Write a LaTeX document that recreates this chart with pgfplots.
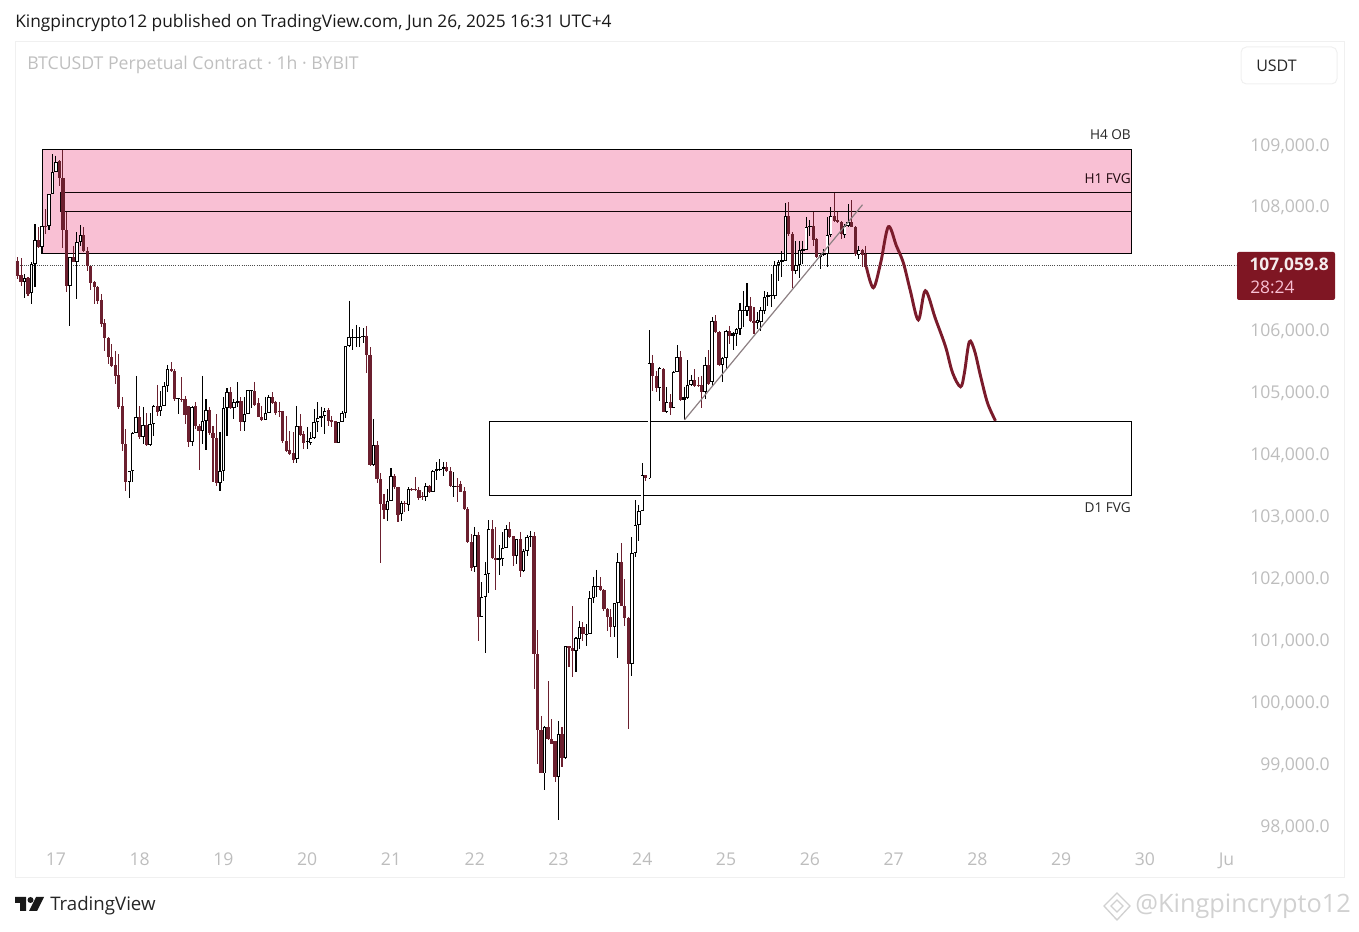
\documentclass[border=0pt]{standalone}
\usepackage{fontspec}
\setmainfont{Open Sans}
\usepackage{pgfplots}
\usepackage{pgfplotstable}
\pgfplotsset{compat=1.18}
\definecolor{bear}{HTML}{6B1F2E}
\definecolor{pinkbox}{HTML}{F9C0D4}
\definecolor{curve}{HTML}{7A1B2B}
\definecolor{ticktxt}{HTML}{BDBDBD}
\definecolor{lab}{HTML}{7F1623}
\definecolor{trend}{HTML}{8C7F82}
\pgfplotstableread{
t o h l c
-11 107117 107182 106832 106886
-10 106902 107171 106724 106778
-9 106778 106913 106525 106848
-8 106848 106859 106563 106590
-7 106606 107101 106428 107074
-6 107074 107720 106697 107461
-5 107461 107666 107332 107343
-4 107343 107693 107235 107687
-3 107687 107962 107558 107666
-2 107682 108204 107623 108204
-1 108204 108849 108204 108554
0 108554 108823 108554 108715
1 108731 108753 108338 108457
2 108457 108919 107332 107623
3 107623 107908 106617 106724
4 106713 107192 106068 107182
5 107182 107370 107101 107101
6 107101 107585 106509 107434
7 107434 107703 107370 107542
8 107547 107666 107262 107278
9 107278 107343 106966 107036
10 107036 107047 106654 106762
11 106778 106805 106428 106697
12 106708 106724 106428 106482
13 106498 106590 106052 106106
14 106116 106186 105675 105874
15 105880 105890 105460 105568
16 105568 105783 105417 105433
17 105449 105675 105137 105272
18 105282 105621 104734 104761
19 104782 104922 104050 104169
20 104169 104411 103405 103550
21 103550 103738 103292 103738
22 103738 104357 103550 104346
23 104346 105272 104346 104610
24 104610 104788 104250 104276
25 104276 104761 104169 104481
26 104481 104664 104142 104153
27 104153 104664 104142 104492
28 104492 104804 104303 104777
29 104777 105126 104626 104691
30 104696 105019 104626 104782
31 104782 105164 104782 105105
32 105100 105449 105003 105379
33 105379 105487 105325 105342
34 105352 105379 104868 104895
35 104890 104911 104653 104906
36 104895 105245 104841 104879
37 104895 104949 104492 104637
38 104788 104788 104115 104196
39 104196 104788 104142 104771
40 104777 104841 104411 104465
41 104465 104492 103755 104373
42 104373 105272 104169 104545
43 104545 104895 104072 104718
44 104723 104761 104320 104346
45 104346 104465 103550 104266
46 104266 104653 103496 103534
47 103534 104357 103405 103738
48 103738 104922 103577 104750
49 104750 105073 104303 105013
50 105013 105083 104734 104750
51 104750 104895 104572 104841
52 104830 105164 104761 104868
53 104868 104922 104384 104529
54 104529 104922 104384 104653
55 104653 105041 104653 105041
56 105030 105041 104750 105041
57 105019 105175 104788 104799
58 104826 104912 104600 104610
59 104610 104788 104546 104557
60 104557 104933 104557 104664
61 104664 104965 104664 104933
62 104933 105003 104815 104826
63 104842 104869 104643 104664
64 104696 104842 104600 104680
65 104696 104707 104180 104212
66 104223 104626 104035 104062
67 104072 104374 103997 104008
68 104018 104358 103857 103911
69 103927 104788 103857 104465
70 104465 104653 104304 104320
71 104331 104374 104089 104180
72 104196 104449 104089 104212
73 104180 104358 104158 104266
74 104266 104734 104250 104530
75 104519 104842 104368 104589
76 104589 104772 104449 104621
77 104621 104750 104331 104696
78 104718 104750 104465 104546
79 104557 104626 104449 104530
80 104535 104546 104180 104180
81 104180 104524 104180 104524
82 104524 104707 104524 104675
83 104664 105751 104589 105751
84 105751 106483 105729 105902
85 105880 106025 105686 105891
86 105880 106095 105740 105891
87 105880 106052 105729 105902
88 105907 106041 105794 105918
89 105918 106079 105310 105611
90 105611 105729 103820 103830
91 103836 104573 103820 104153
92 104158 104212 103534 103604
93 103604 103696 102243 103201
94 103201 103362 102959 103104
95 103104 103443 102921 103244
96 103244 103782 103244 103658
97 103658 103685 103443 103470
98 103470 103481 102905 103029
99 103040 103255 102921 103222
100 103217 103255 103066 103201
101 103190 103470 103082 103443
102 103443 103459 103416 103427
103 103438 103631 103416 103427
104 103427 103470 103265 103298
105 103330 103389 103265 103308
106 103319 103534 103255 103497
107 103497 103508 103378 103389
108 103389 103750 103389 103739
109 103739 103873 103588 103771
110 103760 103927 103739 103771
111 103766 103873 103658 103803
112 103803 103873 103712 103728
113 103739 103793 103481 103497
114 103481 103712 103308 103497
115 103486 103620 103228 103475
116 103524 103578 103389 103400
117 103416 103470 103104 103120
118 103120 103147 102566 102582
119 102587 102716 102124 102167
120 102178 102834 102113 102700
121 102700 102754 100994 101371
122 101371 101936 101371 101694
123 101694 102259 100790 102070
124 102070 102942 101774 102797
125 102797 102942 102312 102329
126 102329 102824 101818 102296
127 102296 102538 102060 102323
128 102312 102743 102205 102485
129 102485 102867 102485 102797
130 102797 102904 102651 102673
131 102684 102689 102205 102356
132 102356 102635 102232 102635
133 102635 102754 102017 102124
134 102124 102474 102097 102447
135 102447 102705 102366 102673
136 102673 102770 102501 102689
137 102684 102754 100209 100779
138 100779 101167 99004 99553
139 99553 99784 98853 98853
140 98853 99622 98589 99596
141 99596 100338 99391 99407
142 99407 99730 99327 99337
143 99370 99380 98708 98789
144 98789 99703 98105 99488
145 99488 99606 98950 99111
146 99111 100903 99084 100903
147 100903 100914 100564 100876
148 100876 101549 100413 100822
149 100822 101048 100494 101032
150 101021 101317 100855 101210
151 101210 101290 100994 101102
152 101091 101263 100914 101107
153 101102 101791 101102 101683
154 101683 102027 101597 101882
155 101866 102140 101694 101882
156 101882 102017 101801 101812
157 101812 101828 101479 101505
158 101505 101522 101145 101371
159 101371 101505 101048 101210
160 101210 101597 101048 101597
161 101597 102404 100725 102259
162 102259 102565 101549 101559
163 101559 101990 101236 101355
164 101355 101382 99579 100618
165 100618 102662 100419 102409
166 102409 103265 102339 102861
167 102861 103189 102608 103093
168 103093 103862 103093 103668
169 103668 103668 103577 103614
170 103614 106009 103600 105476
171 105476 105611 105030 105261
172 105261 105352 105003 105067
173 105067 105417 104868 105390
174 105379 105390 104680 104691
175 104691 105083 104664 104841
176 104841 104976 104637 104750
177 104750 105352 104750 105336
178 105336 105767 105325 105568
179 105568 105675 104857 104879
180 104879 105094 104556 104922
181 104911 105525 104895 105121
182 105121 105288 105110 105202
183 105202 105379 105083 105110
184 105121 105245 105083 105105
185 105121 105272 104750 105003
186 105003 105568 104895 105444
187 105444 105686 105126 105137
188 105164 106224 105110 106159
189 106159 106251 105955 105971
190 105971 105998 105433 105444
191 105444 105568 105164 105551
192 105551 106014 105379 105998
193 105998 106079 105783 105912
194 105912 105971 105686 105955
195 105944 106041 105756 106025
196 106025 106445 105933 106332
197 106321 106644 106052 106332
198 106310 106767 106240 106402
199 106402 106536 106133 106149
200 106159 106375 105944 106116
201 106116 106294 106025 106170
202 106133 106385 105998 106332
203 106321 106633 106267 106536
204 106536 106617 106402 106579
205 106563 106913 106385 106574
206 106563 107128 106509 107063
207 107063 107139 106805 107112
208 107101 107289 106859 107139
209 107128 108053 107128 107843
210 107843 108069 107531 107558
211 107558 107585 106681 106956
212 106956 107440 106913 107058
213 107058 107451 106843 107300
214 107289 107451 107074 107316
215 107305 107838 107305 107677
216 107677 107784 107531 107693
217 107693 107908 107359 107461
218 107478 107494 107171 107182
219 107182 107246 106993 107225
220 107225 107316 107208 107246
221 107235 107827 107020 107542
222 107542 107989 107515 107854
223 107854 108220 107746 107773
224 107784 107908 107736 107746
225 107746 107773 107477 107558
226 107542 107720 107494 107682
227 107682 108042 107677 107746
228 107746 108107 107677 107677
229 107677 107693 107209 107236
230 107225 107370 107155 107300
231 107300 107316 107031 107225
232 107236 107370 107010 107031
}\candles
\pgfplotsset{
  candle/.style n args={2}{draw=none, mark=none, restrict y to domain=90000:120000,
    error bars/.cd, y dir=minus, y explicit, error mark=none,
    error bar style={draw=#1, line width=#2}},
}
\begin{document}
\begin{tikzpicture}
\path[use as bounding box] (0,0) rectangle (1019.25pt,698.25pt);
\begin{axis}[
  at={(11.6pt,63.9pt)}, anchor=south west,
  scale only axis, width=915.75pt, height=602.25pt,
  xmin=-11.6, xmax=338.25, ymin=97686, ymax=110646,
  axis line style={draw=none}, major tick length=0pt,
  scaled y ticks=false,
  ticklabel style={text=ticktxt, font=\fontsize{13.2pt}{15pt}\selectfont},
  xtick={0,24,48,72,96,120,144,168,192,216,240,264,288,312,335.4},
  xticklabels={17,18,19,20,21,22,23,24,25,26,27,28,29,30,Ju},
  ytick={98000,99000,100000,101000,102000,103000,104000,105000,106000,107000,108000,109000},
  yticklabels={{98,000.0},{99,000.0},{100,000.0},{101,000.0},{102,000.0},{103,000.0},{104,000.0},{105,000.0},{106,000.0},{},{108,000.0},{109,000.0}},
  y tick label style={anchor=east, xshift=73.5pt, yshift=-.75pt},
  yticklabel pos=right,
  x tick label style={yshift=-1.5pt},
]
% H4 OB zone
\addplot[fill=pinkbox, draw=black, line width=.75pt] coordinates {(-3.87,107241) (308.2,107241) (308.2,108919) (-3.87,108919)} --cycle;
% H1 FVG zone
\addplot[fill=pinkbox, draw=black!85!bear, line width=.75pt] coordinates {(1.4,107919) (308.2,107919) (308.2,108225) (1.4,108225)} --cycle;
% D1 FVG zone
\addplot[draw=black, line width=.75pt] coordinates {(124.2,103335) (308.2,103335) (308.2,104529) (124.2,104529)} --cycle;
% last price line
\addplot[draw=black!70, line width=.6pt, densely dotted] coordinates {(-11.6,107059.8) (338.25,107059.8)};
% wicks
\addplot[candle={bear}{.8pt}] table[x=t, y expr={(\thisrow{c}<\thisrow{o})?\thisrow{h}:-1}, y error expr={\thisrow{h}-\thisrow{l}}] {\candles};
\addplot[candle={black}{.8pt}] table[x=t, y expr={(\thisrow{c}>=\thisrow{o})?\thisrow{h}:-1}, y error expr={\thisrow{h}-\thisrow{l}}] {\candles};
% bearish bodies
\addplot[candle={bear}{2.4pt}] table[x=t, y expr={(\thisrow{c}<\thisrow{o})?\thisrow{o}:-1}, y error expr={max(\thisrow{o}-\thisrow{c},16)}] {\candles};
% bullish bodies
\addplot[candle={black}{2.6pt}] table[x=t, y expr={(\thisrow{c}>=\thisrow{o})?\thisrow{c}:-1}, y error expr={max(\thisrow{c}-\thisrow{o},16)}] {\candles};
\addplot[candle={white}{1.25pt}] table[x=t, y expr={(\thisrow{c}-\thisrow{o}>45)?(\thisrow{c}-16):-1}, y error expr={\thisrow{c}-\thisrow{o}-32}] {\candles};
% trend line
\addplot[draw=trend, line width=.9pt] coordinates {(180.1,104561) (231.1,108032)};
% projected path
\addplot[draw=curve, line width=2.2pt, smooth, tension=.55] coordinates {
(232.2,107031) (234.2,106692) (236.3,107095) (238.5,107677) (240.8,107370) (242.8,107095)
(244.8,106644) (247.1,106175) (249.1,106644) (252,106192) (254.9,105740)
(256.9,105320) (259.2,105094) (260.3,105320) (261.7,105820) (263.2,105675) (264.9,105272)
(266.9,104836) (269.2,104545)};
\end{axis}
\begin{scope}[x=.75pt,y=-.75pt,shift={(0pt,698.25pt)}]
% panel border
\draw[draw=black!6, line width=.75pt] (15,42) rectangle (1344,878);
% header
\node[anchor=west, inner sep=0, font=\fontsize{13pt}{15pt}\selectfont, text=black!90] at (15,23) {Kingpincrypto12 published on TradingView.com, Jun 26, 2025 16:31 UTC+4};
\node[anchor=west, inner sep=0, font=\fontsize{13.25pt}{15pt}\selectfont, text=black!25] at (27,65) {BTCUSDT Perpetual Contract · 1h · BYBIT};
% currency button
\draw[draw=black!6, line width=.75pt, fill=white, rounded corners=4pt] (1241,47) rectangle (1337,84);
\node[anchor=west, inner sep=0, font=\fontsize{12pt}{14pt}\selectfont, text=black!85] at (1256,66) {USDT};
% zone labels
\node[anchor=east, inner sep=0, font=\fontsize{10.2pt}{12pt}\selectfont, text=black!85] at (1131,135) {H4 OB};
\node[anchor=east, inner sep=0, font=\fontsize{10.2pt}{12pt}\selectfont, text=black!70!bear] at (1131,179) {H1 FVG};
\node[anchor=east, inner sep=0, font=\fontsize{10.2pt}{12pt}\selectfont, text=black!85] at (1131,508) {D1 FVG};
% price label
\fill[lab, rounded corners=1.5pt] (1237,252) rectangle (1335,300);
\node[anchor=east, inner sep=0, font=\fontsize{13pt}{14pt}\bfseries\selectfont, text=white!92!lab] at (1329,265) {107,059.8};
\node[anchor=west, inner sep=0, font=\fontsize{13pt}{14pt}\selectfont, text=pinkbox] at (1250,287) {28:24};
% TradingView logo
\fill[black!90] (15,897) -- (26,897) -- (26,911) -- (20,911) -- (20,903) -- (15,903) -- cycle;
\fill[black!90] (30.5,900) circle[radius=3];
\fill[black!90] (36,897) -- (44,897) -- (37,911) -- (29,911) -- cycle;
\node[anchor=west, inner sep=0, font=\fontsize{14pt}{16pt}\selectfont, text=black!85] at (50,906) {TradingView};
% watermark
\draw[draw=black!18, line width=1pt] (1117,893) -- (1130,906) -- (1117,920) -- (1104,906) -- cycle;
\draw[draw=black!18, line width=1pt] (1117,900) -- (1123,906) -- (1117,912) -- (1111,906) -- cycle;
\node[anchor=west, inner sep=0, font=\fontsize{19pt}{21pt}\selectfont, text=black!18] at (1135,906) {@Kingpincrypto12};
\end{scope}
\end{tikzpicture}
\end{document}
